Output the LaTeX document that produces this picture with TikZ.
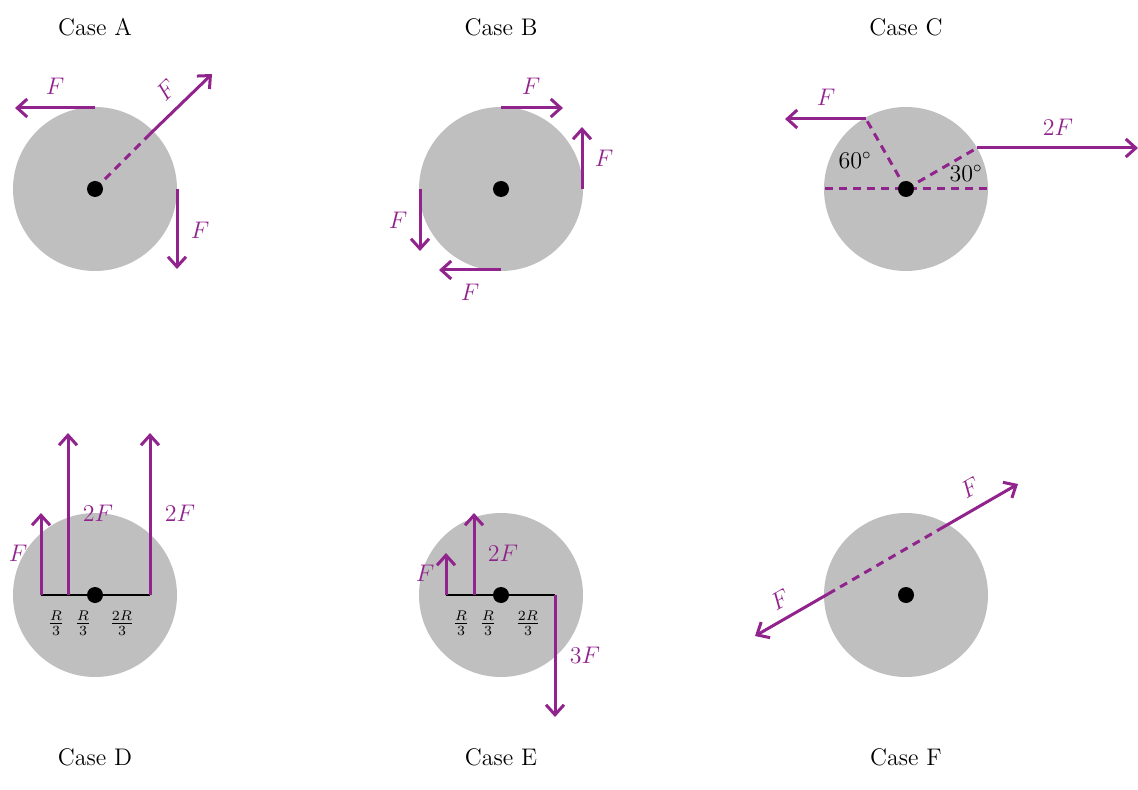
\documentclass[tikz,border=0pt]{standalone}
\usetikzlibrary{arrows.meta}
\definecolor{fp}{RGB}{145,35,140}
\definecolor{disk}{RGB}{191,191,191}
\begin{document}
\begin{tikzpicture}[x=0.5pt,y=-0.5pt,
  force/.style={fp,line width=1.5pt,-{Straight Barb[length=5pt,width=9pt]}},
  fline/.style={fp,line width=1.5pt},
  dline/.style={fp,line width=1.5pt,dash pattern=on 4pt off 3pt},
  flab/.style={fp,font=\large},
  blab/.style={font=\large},
  case/.style={font=\large}]
\useasboundingbox (0,0) rectangle (1138,790);
\foreach \n/\x/\y in {A/95/189,B/501/189,C/906/189,D/95/595,E/501/595,F/906/595}{
  \fill[disk] (\x,\y) circle[radius=82];
  \coordinate (c\n) at (\x,\y);
}
\node[case] (lA) at (95,27) {Case A};
\node[case] (lB) at (501,27) {Case B};
\node[case] (lC) at (906,27) {Case C};
\node[case] (lD) at (95,757) {Case D};
\node[case] (lE) at (501,757) {Case E};
\node[case] (lF) at (906,757) {Case F};
% Case A
\coordinate (a1) at (95,108); \coordinate (a2) at (15,108);
\draw[force] (a1) -- (a2); \node[flab] (fa1) at (55,86) {$F$};
\coordinate (a3) at (150,134); \coordinate (a4) at (212,74);
\draw[dline] (cA) -- (a3); \draw[force] (a3) -- (a4);
\node[flab,rotate=45] (fa2) at (166,90) {$F$};
\coordinate (a5) at (177,189); \coordinate (a6) at (177,269);
\draw[force] (a5) -- (a6); \node[flab] (fa3) at (200,230) {$F$};
% Case B
\coordinate (b1) at (501,108); \coordinate (b2) at (563,108);
\draw[force] (b1) -- (b2); \node[flab] (fb1) at (531,86) {$F$};
\coordinate (b3) at (582,189); \coordinate (b4) at (582,127);
\draw[force] (b3) -- (b4); \node[flab] (fb2) at (604,158) {$F$};
\coordinate (b5) at (420,189); \coordinate (b6) at (420,251);
\draw[force] (b5) -- (b6); \node[flab] (fb3) at (398,220) {$F$};
\coordinate (b7) at (501,270); \coordinate (b8) at (439,270);
\draw[force] (b7) -- (b8); \node[flab] (fb4) at (470,292) {$F$};
% Case C
\coordinate (c1) at (825,189); \coordinate (c2) at (988,189);
\draw[dline] (c1) -- (c2);
\coordinate (c3) at (866,119); \coordinate (c4) at (785,119);
\draw[dline] (cC) -- (c3); \draw[force] (c3) -- (c4);
\node[flab] (fc1) at (826,97) {$F$};
\node[blab] (ang1) at (855,160) {$60^\circ$};
\coordinate (c5) at (977,148); \coordinate (c6) at (1138,148);
\draw[dline] (cC) -- (c5); \draw[force] (c5) -- (c6);
\node[flab] (fc2) at (1058,127) {$2F$};
\node[blab] (ang2) at (966,173) {$30^\circ$};
% Case D
\coordinate (d0) at (41,595); \coordinate (d1) at (41,513);
\coordinate (d2) at (68,595); \coordinate (d3) at (68,433);
\coordinate (d4) at (150,595); \coordinate (d5) at (150,433);
\draw[line width=1.2pt] (d0) -- (d4);
\draw[force] (d0) -- (d1); \node[flab] (fd1) at (18,553) {$F$};
\draw[force] (d2) -- (d3); \node[flab] (fd2) at (98,513) {$2F$};
\draw[force] (d4) -- (d5); \node[flab] (fd3) at (180,513) {$2F$};
\node (rd1) at (56,623) {$\frac{R}{3}$};
\node (rd2) at (83,623) {$\frac{R}{3}$};
\node (rd3) at (122,623) {$\frac{2R}{3}$};
% Case E
\coordinate (e0) at (446,595); \coordinate (e1) at (446,553);
\coordinate (e2) at (474,595); \coordinate (e3) at (474,513);
\coordinate (e4) at (555,595); \coordinate (e5) at (555,717);
\draw[line width=1.2pt] (e0) -- (e4);
\draw[force] (e0) -- (e1); \node[flab] (fe1) at (425,573) {$F$};
\draw[force] (e2) -- (e3); \node[flab] (fe2) at (503,553) {$2F$};
\draw[force] (e4) -- (e5); \node[flab] (fe3) at (585,655) {$3F$};
\node (re1) at (461,623) {$\frac{R}{3}$};
\node (re2) at (488,623) {$\frac{R}{3}$};
\node (re3) at (528,623) {$\frac{2R}{3}$};
% Case F
\coordinate (f1) at (828,594); \coordinate (f2) at (755,636);
\coordinate (f3) at (940,529); \coordinate (f4) at (1018,484);
\draw[force] (f1) -- (f2); \draw[dline] (f1) -- (f3); \draw[force] (f3) -- (f4);
\node[flab,rotate=30] (ff1) at (780,600) {$F$};
\node[flab,rotate=30] (ff2) at (970,488) {$F$};
\foreach \n in {A,B,C,D,E,F} \fill (c\n) circle[radius=4pt];
\end{tikzpicture}
\end{document}
